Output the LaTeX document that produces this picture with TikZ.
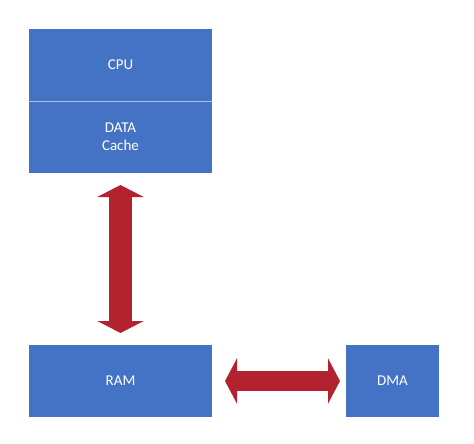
\documentclass[tikz,border=0pt]{standalone}
\usepackage{fontspec}
\setmainfont{Carlito}
\usetikzlibrary{positioning, arrows.meta}

\definecolor{boxblue}{HTML}{4472C4}
\definecolor{arrowred}{HTML}{B3222F}

\begin{document}
\begin{tikzpicture}[
    x=1pt, y=-1pt,
    % Styles
    unit/.style={fill=boxblue, text=white, inner sep=0pt, outer sep=0pt, minimum height=72pt, align=center, font=\fontsize{15}{18}\selectfont},
    wide/.style={unit, minimum width=183pt},
    narrow/.style={unit, minimum width=93pt},
    bus-arrow/.style={arrowred, line width=#1},
]
\useasboundingbox (0,0) rectangle (474,444);

% CPU with its data cache
\node[wide] (cpu) at (120.5, 65) {CPU};
\node[wide, below=0pt of cpu] (cache) {DATA\\Cache};
\draw[boxblue!45!white, line width=0.8pt] (cache.north west) -- (cache.north east);

% Memory and DMA
\node[wide] (ram) at (120.5, 381) {RAM};
\node[narrow] (dma) at (392.5, 381) {DMA};

% Bus arrows
\draw[bus-arrow=23pt, {Triangle[length=12pt, width=46pt]}-{Triangle[length=12pt, width=46pt]},
    shorten <=12pt, shorten >=12pt] (cache) -- (ram);
\draw[bus-arrow=20pt, {Triangle[length=12pt, width=45pt]}-{Triangle[length=12pt, width=45pt]},
    shorten <=13pt, shorten >=6pt] (ram) -- (dma);

\end{tikzpicture}
\end{document}
